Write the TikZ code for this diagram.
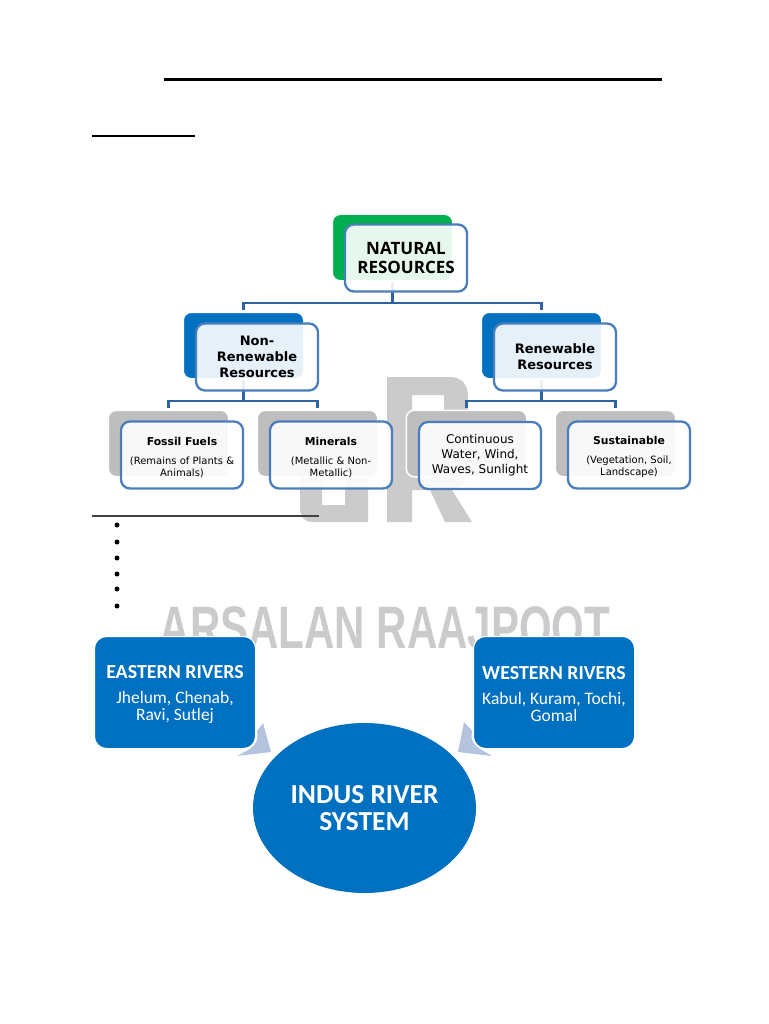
\documentclass[tikz,border=0pt]{standalone}
\usepackage{fontspec}
\setmainfont{DejaVu Sans}
\newfontfamily\calfnt{Carlito}
\newfontfamily\opnfnt{Open Sans}
\newfontfamily\wmfnt{Liberation Sans}
\usetikzlibrary{shapes.geometric,calc}
\definecolor{wmgray}{HTML}{CBCBCB}
\definecolor{bluefill}{HTML}{0070C0}
\definecolor{greenfill}{HTML}{00B050}
\definecolor{grayback}{HTML}{BEBEBE}
\definecolor{frameblue}{HTML}{4A7EBB}
\definecolor{linkblue}{HTML}{2F62A3}
\definecolor{arrowfill}{HTML}{B4C3DE}
\tikzset{
  backbox/.style={rectangle,rounded corners=8pt,minimum width=120.5pt,minimum height=66.5pt,inner sep=0pt,draw=white,line width=1.5pt},
  frontbox/.style={rectangle,rounded corners=9pt,minimum width=122pt,minimum height=67pt,inner sep=0pt,align=center,draw=frameblue,line width=2.3pt,fill=white,fill opacity=.9,text opacity=1},
  linkline/.style={draw=linkblue,line width=2.2pt},
  riverbox/.style={rectangle,rounded corners=12pt,minimum width=161pt,minimum height=112pt,inner sep=0pt,fill=bluefill,draw=white,line width=1pt,text=white,align=center,font=\calfnt\fontsize{17.5}{17}\selectfont},
  bulletdot/.style={circle,fill=black,inner sep=0pt,minimum size=5pt},
  bigtext/.style={font=\opnfnt\bfseries\fontsize{17}{19}\selectfont},
  headtext/.style={font=\bfseries\fontsize{13}{16}\selectfont},
  plaintext/.style={font=\fontsize{12}{15}\selectfont},
  smallbox/.style={font=\fontsize{10}{12}\selectfont},
}
\newcommand{\mytitle}[1]{{\rule{0pt}{12.4pt}\bfseries\fontsize{10.8}{12}\selectfont #1}}
\newcommand{\riverhead}[1]{{\rule{0pt}{16pt}\bfseries\fontsize{19.9}{17}\selectfont #1}}
\begin{document}
\begin{tikzpicture}[x=1pt,y=-1pt]
\useasboundingbox (0,0) rectangle (768,1024);
\fill[white] (0,0) rectangle (768,1024);
% rules
\draw[line width=3pt] (164,80) -- (662,80);
\draw[line width=1.5pt] (92,136) -- (195,136);
% watermark
\fill[wmgray,even odd rule] (387,377) -- (450,377) .. controls (462,377) and (468,385) .. (468,396)
  -- (468,470) .. controls (468,480) and (462,488) .. (452,490) -- (472,522) -- (445,522) -- (430,490) -- (412,490) -- (412,522) -- (387,522) -- cycle
  (412,395) rectangle (444,470);
\fill[wmgray] (300,478) -- (322,478) -- (322,505) -- (345,505) -- (345,478) -- (368,478) -- (368,522) -- (312,522) .. controls (304,522) and (300,516) .. (300,508) -- cycle;
\node[text=wmgray,inner sep=0pt,font=\wmfnt\bfseries\fontsize{60}{60}\selectfont,xscale=.70] (wmtext) at (385,627.5) {ARSALAN RAAJPOOT};
\draw[line width=1.2pt,draw=black!75] (92,516) -- (319,516);
% bullets
\foreach \n/\yy in {a/525,b/542,c/558,d/574,e/589,f/606}
  \node[bulletdot] (bullet\n) at (117,\yy) {};
% back boxes
\node[backbox,fill=greenfill] (rootback) at (392.5,247.5) {};
\node[backbox,fill=bluefill] (nonback) at (243.5,345.5) {};
\node[backbox,fill=bluefill] (renback) at (541.5,345.5) {};
\node[backbox,fill=grayback] (fosback) at (168.5,443.5) {};
\node[backbox,fill=grayback] (minback) at (317.5,443.5) {};
\node[backbox,fill=grayback] (conback) at (466.5,443.5) {};
\node[backbox,fill=grayback] (susback) at (615.5,443.5) {};
% connectors
\draw[linkline,shorten >=2pt] (rootback.south) -- ($(rootback.south)+(0,21.5)$) -| (nonback.north);
\draw[linkline,shorten >=2pt] (rootback.south) -- ($(rootback.south)+(0,21.5)$) -| (renback.north);
\draw[linkline,shorten >=2pt] (nonback.south) -- ($(nonback.south)+(0,21.5)$) -| (fosback.north);
\draw[linkline,shorten >=2pt] (nonback.south) -- ($(nonback.south)+(0,21.5)$) -| (minback.north);
\draw[linkline,shorten >=2pt] (renback.south) -- ($(renback.south)+(0,21.5)$) -| (conback.north);
\draw[linkline,shorten >=2pt] (renback.south) -- ($(renback.south)+(0,21.5)$) -| (susback.north);
% front boxes
\node[frontbox,bigtext] (root) at (406,258) {NATURAL\\RESOURCES};
\node[frontbox,headtext] (non) at (257,357) {Non-\\Renewable\\Resources};
\node[frontbox,headtext] (ren) at (555,357) {Renewable\\Resources};
\node[frontbox,smallbox] (fos) at (182,455) {\mytitle{Fossil Fuels}\\[7pt](Remains of Plants \&\\Animals)};
\node[frontbox,smallbox] (min) at (331,455) {\mytitle{Minerals}\\[7pt](Metallic \& Non-\\Metallic)};
\node[frontbox,plaintext] (con) at (480,455.5) {Continuous\\Water, Wind,\\Waves, Sunlight};
\node[frontbox,smallbox] (sus) at (629,455) {\mytitle{Sustainable}\\[7pt](Vegetation, Soil,\\Landscape)};
% block arrows
\fill[arrowfill] (263,723) -- (271,752) -- (237,756) -- (250,749) .. controls (256,745) and (259,738) .. (257,731) -- cycle;
\fill[arrowfill] (464,722) -- (458,752) -- (492,756) -- (482,750) .. controls (473,746) and (470,738) .. (472,731) -- cycle;
% rivers
\node[riverbox] (east) at (175,692.5) {\riverhead{EASTERN RIVERS}\\[8pt]Jhelum, Chenab,\\Ravi, Sutlej};
\node[riverbox] (west) at (554,692.5) {\riverhead{WESTERN RIVERS}\\[8pt]Kabul, Kuram, Tochi,\\Gomal};
\node[ellipse,minimum width=223pt,minimum height=170pt,inner sep=0pt,fill=bluefill,text=white,align=center,font=\calfnt\bfseries\fontsize{27.5}{27}\selectfont] (indus) at (364.5,808) {INDUS RIVER\\SYSTEM};
\end{tikzpicture}
\end{document}
